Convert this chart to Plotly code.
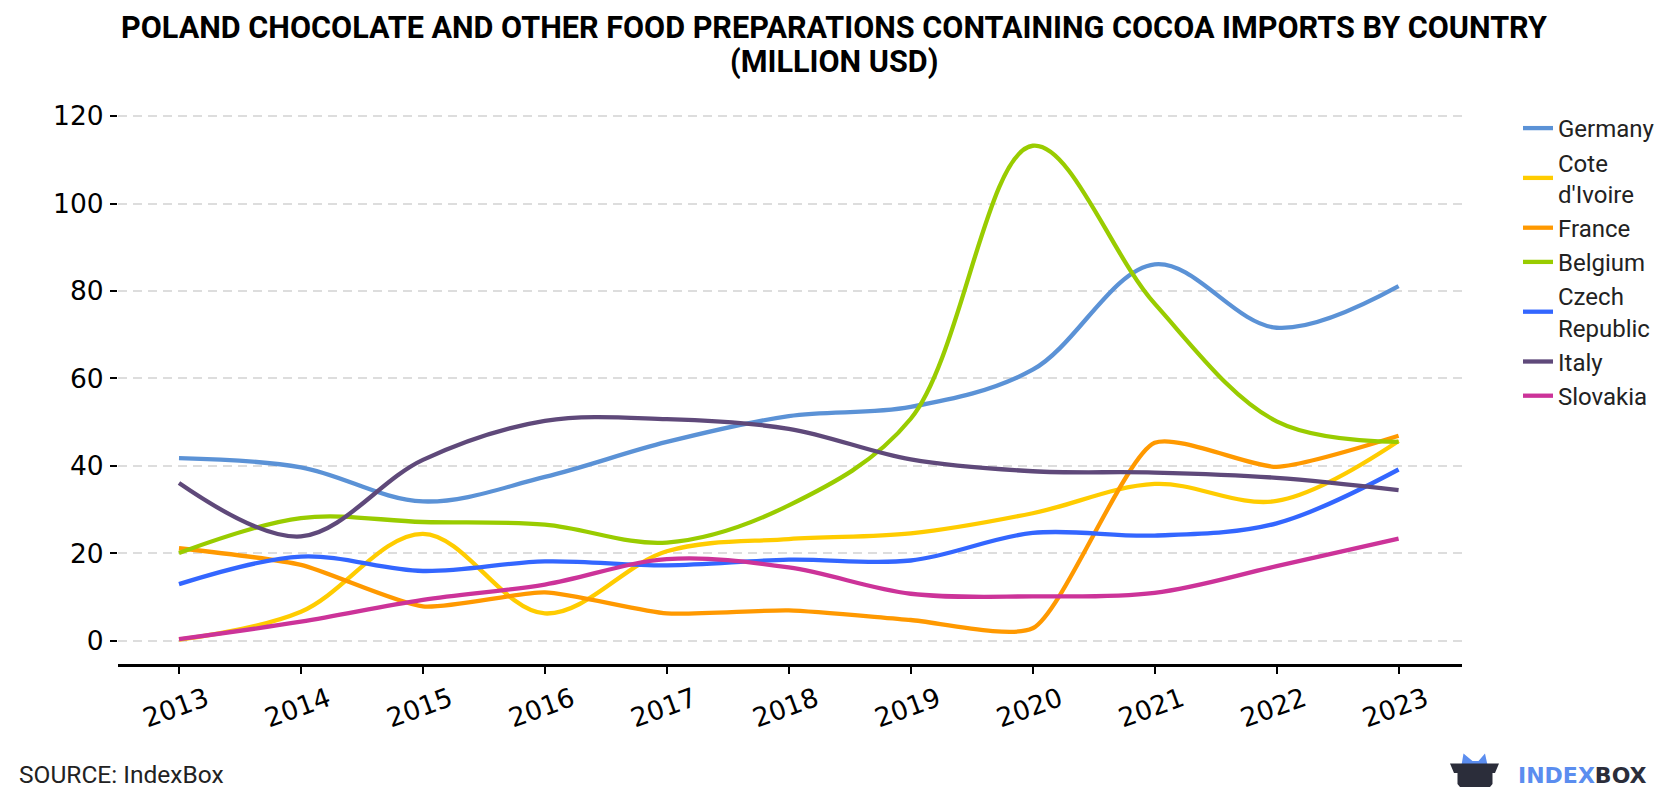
import plotly.graph_objects as go

years = [2013, 2014, 2015, 2016, 2017, 2018, 2019, 2020, 2021, 2022, 2023]

germany = [41.8, 39.7, 31.9, 37.5, 45.5, 51.4, 53.5, 62.0, 86.1, 71.6, 81.1]
cote_divoire = [0.3, 6.7, 24.5, 6.3, 20.5, 23.3, 24.6, 29.2, 35.9, 32.0, 45.7]
france = [21.2, 17.4, 7.9, 11.1, 6.3, 7.0, 4.8, 2.9, 45.3, 39.8, 46.9]
belgium = [20.1, 28.1, 27.2, 26.6, 22.5, 31.0, 50.8, 113.2, 77.1, 50.2, 45.5]
czech_republic = [13.0, 19.3, 16.0, 18.2, 17.3, 18.6, 18.4, 24.7, 24.1, 26.9, 39.2]
italy = [36.1, 23.9, 41.4, 50.3, 50.7, 48.5, 41.5, 38.8, 38.5, 37.3, 34.5]
slovakia = [0.4, 4.4, 9.4, 12.9, 18.7, 16.8, 10.8, 10.2, 11.0, 17.1, 23.4]

series = [
    ("Germany", germany, "#5B92D6", 1.0),
    ("Cote<br>d'Ivoire", cote_divoire, "#FFCC00", 1.0),
    ("France", france, "#FF9900", 0.6),
    ("Belgium", belgium, "#99CC00", 1.0),
    ("Czech<br>Republic", czech_republic, "#3366FF", 1.0),
    ("Italy", italy, "#5F497A", 1.0),
    ("Slovakia", slovakia, "#CC3399", 1.0),
]

y_ticks = [0, 20, 40, 60, 80, 100, 120]

# layout geometry (pixels)
W, H = 1680, 800
ML, MR, MT, MB = 118, 218, 95, 136
PW, PH = W - ML - MR, H - MT - MB


def px(x):
    return (x - ML) / PW


def py(y):
    return (H - MB - y) / PH


fig = go.Figure()
for name, vals, color, sm in series:
    fig.add_trace(go.Scatter(
        x=years, y=vals, name=name, mode="lines",
        line=dict(color=color, width=4.3, shape="spline", smoothing=sm),
    ))

fig.update_layout(
    width=W, height=H,
    margin=dict(l=ML, r=MR, t=MT, b=MB),
    paper_bgcolor="white", plot_bgcolor="white",
    title=dict(
        text="<b>POLAND CHOCOLATE AND OTHER FOOD PREPARATIONS CONTAINING COCOA IMPORTS BY COUNTRY</b>",
        font=dict(family="Roboto", size=30.6, color="black"),
        x=834 / W, xanchor="center", xref="container",
        y=1 - 27.5 / H, yanchor="middle", yref="container",
    ),
    legend=dict(
        x=px(1518), y=py(106), xanchor="left", yanchor="top",
        font=dict(family="Roboto", size=24, color="#222"),
        bgcolor="rgba(0,0,0,0)",
    ),
    showlegend=True,
)

fig.add_annotation(
    text="<b>(MILLION USD)</b>", xref="paper", yref="paper",
    x=px(834), y=py(62.5), xanchor="center", yanchor="middle", showarrow=False,
    font=dict(family="Roboto", size=30.6, color="black"),
)

fig.update_xaxes(
    range=[2012.5, 2023.52],
    tickvals=years, ticktext=[str(y) for y in years],
    tickangle=-20, ticklabelshift=27,
    ticks="outside", ticklen=7, tickwidth=2, tickcolor="black",
    showline=True, linecolor="black", linewidth=2.5,
    showgrid=False, zeroline=False,
    tickfont=dict(family="DejaVu Sans", size=26.5, color="black"),
)
fig.update_yaxes(
    range=[-5.26, 124.8],
    tickvals=y_ticks,
    ticks="outside", ticklen=7, tickwidth=2, tickcolor="black",
    showline=False, zeroline=False,
    showgrid=True, gridcolor="#DDDDDD", gridwidth=2, griddash="9px,6px",
    tickfont=dict(family="DejaVu Sans", size=26.5, color="black"),
    ticklabelstandoff=1,
)

# source note
fig.add_annotation(
    text="SOURCE: IndexBox", xref="paper", yref="paper",
    x=px(17), y=py(774), xanchor="left", yanchor="middle", showarrow=False,
    font=dict(family="Roboto", size=24.5, color="#222"),
)

# IndexBox logo text
fig.add_annotation(
    text="<b><span style='color:#5B8DEF'>INDEX</span><span style='color:#2B2D3A'>BOX</span></b>",
    xref="paper", yref="paper",
    x=px(1516), y=py(775), xanchor="left", yanchor="middle", showarrow=False,
    font=dict(family="DejaVu Sans", size=22, color="#2B2D3A"),
)


def path(points):
    s = "M " + " L ".join(f"{px(x):.5f},{py(y):.5f}" for x, y in points) + " Z"
    return s


# logo icon (blue ears + dark box)
fig.add_shape(type="path", xref="paper", yref="paper", layer="above",
              path=path([(1461.5, 765), (1463.5, 753.5), (1472.5, 761), (1478.5, 761),
                         (1485, 753.5), (1487.5, 765)]),
              fillcolor="#5B8DEF", line=dict(width=0))
fig.add_shape(type="path", xref="paper", yref="paper", layer="above",
              path=path([(1450, 763.5), (1499, 763.5), (1495, 773), (1492.5, 773),
                         (1492.5, 784), (1490, 787), (1460, 787), (1457.5, 784),
                         (1457.5, 773), (1454, 773)]),
              fillcolor="#2B2D3A", line=dict(width=0))

fig.write_html("out.html")
